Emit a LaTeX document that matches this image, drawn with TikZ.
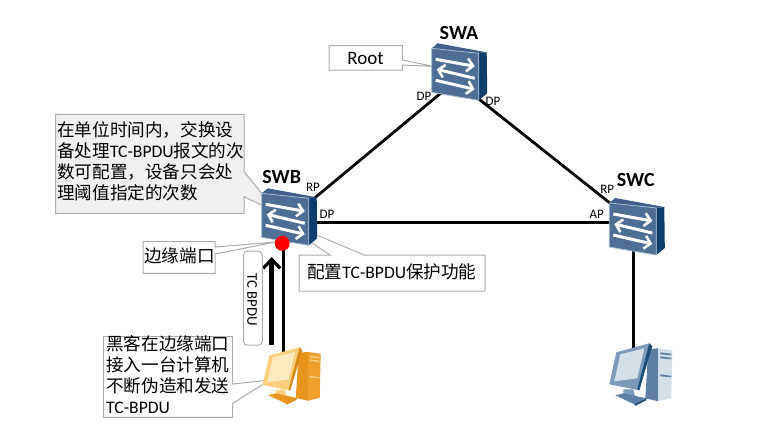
\documentclass[tikz,border=0pt]{standalone}
\usepackage{fontspec}
\setmainfont{Carlito}
\newfontfamily\cjk{Noto Sans CJK SC}
\usetikzlibrary{arrows.meta}
\definecolor{calloutgray}{HTML}{ADADAD}
\definecolor{swfront}{HTML}{4E6E94}
\definecolor{swtop}{HTML}{41618A}
\definecolor{swside}{HTML}{103E6C}
\definecolor{swedge}{HTML}{A6BBD0}
\definecolor{orside}{HTML}{E8951F}
\definecolor{ordark}{HTML}{D98A1A}
\definecolor{orframe}{HTML}{FCCF7E}
\definecolor{orlight}{HTML}{FEE9BF}
\definecolor{ortower}{HTML}{EE9F2C}
\definecolor{orstripe}{HTML}{F6C67A}
\definecolor{blside}{HTML}{5F7FA3}
\definecolor{bldark}{HTML}{1F4E79}
\definecolor{blframe}{HTML}{7D9AB8}
\definecolor{bllight}{HTML}{D5DFE8}
\tikzset{
  link/.style={draw=black,line width=2.8pt},
  callout/.style={draw=calloutgray,line width=1pt,fill=white},
  grayout/.style={callout,fill=black!6},
  calltext/.style={inner sep=0pt,anchor=north west,align=left,font=\fontsize{17.6}{21}\selectfont},
  swname/.style={inner sep=0pt,font=\fontsize{20}{21}\selectfont\bfseries},
  portname/.style={inner sep=0pt,font=\fontsize{13}{14}\selectfont},
  swarrow/.style={draw=white,line width=3pt,-{Straight Barb[length=6pt,width=13pt,line width=2.6pt]}}
}
\newcommand{\switchicon}[2]{%
\begin{scope}[shift={(#1,#2)}]
  \fill[swtop] (0,0) -- (6,-5) -- (55,4) -- (47,5) -- cycle;
  \fill[swside] (47,5) -- (55,4) -- (55.5,45) -- (47,52) -- cycle;
  \fill[swfront,draw=swedge,line width=.8pt] (0,0) -- (47,5) -- (47,52) -- (0,44) -- cycle;
  \draw[swarrow] (4,11) -- (43,18);
  \draw[swarrow] (43,30) -- (5,21);
  \draw[swarrow] (4,32) -- (43,41);
\end{scope}}
% origin x y scale, side, dark, frame, light, tower front, stripes
\newcommand{\pcicon}[9]{%
\begin{scope}[shift={(#1,#2)},scale=#3]
  \fill[#4] (39,6) -- (49,5) -- (49,58) -- (36,55) -- cycle;
  \fill[#8] (49,5) -- (63,7) -- (62,55) -- (49,58) -- cycle;
  \fill[#9] (51,9) -- (62,10.5) -- (62,12) -- (51,11) -- cycle;
  \fill[#9] (51,13) -- (62,14.5) -- (62,16) -- (51,15) -- cycle;
  \fill[#9] (51,31) -- (62,32.5) -- (62,34) -- (51,33) -- cycle;
  \fill[#6] (14,46) -- (24,46) -- (26,55) -- (14,54) -- cycle;
  \fill[#4] (6,52) -- (14,50) -- (37,55) -- (25,61) -- cycle;
  \fill[#5] (25,61) -- (37,55) -- (37,57) -- (26,62.5) -- cycle;
  \fill[#6] (0,41) -- (7,9) -- (40,0) -- (30,47) -- cycle;
  \fill[#5] (40,0) -- (43,3) -- (30,47) -- (28,46) -- cycle;
  \fill[#7] (5,38) -- (11,11) -- (35,5) -- (28,35) -- cycle;
\end{scope}}
\begin{document}
\begin{tikzpicture}[x=1pt,y=-1pt]
\useasboundingbox (0,0) rectangle (770,429);
\fill[white] (0,0) rectangle (770,429);
% connector ends
\coordinate (aL) at (447,88);
\coordinate (aR) at (470,92);
\coordinate (bT) at (305,206);
\coordinate (bR) at (310,222.3);
\coordinate (bB) at (283.7,243);
\coordinate (cT) at (625,215);
\coordinate (cL) at (615,222.3);
\coordinate (cB) at (633.3,240);
\coordinate (pcA) at (283.7,352);
\coordinate (pcB) at (633.3,350);
\coordinate (upA) at (271.7,345);
\coordinate (upB) at (271.7,257);
% links
\draw[link] (aL) -- (bT);
\draw[link] (aR) -- (cT);
\draw[link] (bR) -- (cL);
\draw[link] (bB) -- (pcA);
\draw[link] (cB) -- (pcB);
\draw[line width=4.5pt,-{Straight Barb[length=9pt,width=17pt,line width=3.2pt]}] (upA) -- (upB);
% callouts
\draw[callout] (329,45.7) -- (402.3,45.7) -- (402.3,60) -- (434,66.5) -- (402.3,65) -- (402.3,70) -- (329,70) -- cycle;
\draw[grayout] (55.7,114.3) -- (244,114.3) -- (244,171.7) -- (278,213) -- (244,196.7) -- (244,213.3) -- (55.7,213.3) -- cycle;
\draw[callout] (143,241.7) -- (215,241.7) -- (215,247) -- (276,242) -- (215,254) -- (215,273.3) -- (143,273.3) -- cycle;
\draw[callout] (299,255) -- (330,255) -- (305,238) -- (305,230) -- (364,255) -- (485,255) -- (485,291) -- (299,291) -- cycle;
\draw[callout] (103.3,336.7) -- (232.7,336.7) -- (232.7,384) -- (270,380) -- (232.7,403.3) -- (232.7,417.3) -- (103.3,417.3) -- cycle;
\node[callout,rounded corners=4pt,minimum width=19pt,minimum height=94pt,inner sep=0pt] (tcbox) at (252.8,298.2) {};
\node[inner sep=0pt,rotate=-90,font=\fontsize{14.8}{15}\selectfont] (tctext) at (252,300) {TC BPDU};
% switches
\switchicon{431.7}{48.3}
\switchicon{261.7}{193.3}
\switchicon{609.3}{203}
% computers
\pcicon{262.7}{347.3}{0.92}{orside}{ordark}{orframe}{orlight}{ortower}{orstripe}
\pcicon{609.3}{343.3}{1}{blside}{bldark}{blframe}{bllight}{bllight}{blside}
\fill[red] (282.2,243.3) circle (7.5);
% labels
\node[inner sep=0pt,font=\fontsize{19}{20}\selectfont] (rootlabel) at (365.5,58) {Root};
\node[calltext] (bigtext) at (57,121) {{\cjk 在单位时间内，交换设}\\{\cjk 备处理}TC-BPDU{\cjk 报文的次}\\{\cjk 数可配置，设备只会处}\\{\cjk 理阈值指定的次数}};
\node[calltext] (edgetext) at (144,247) {\cjk 边缘端口};
\node[calltext] (cfgtext) at (307,263) {{\cjk 配置}TC-BPDU{\cjk 保护功能}};
\node[calltext] (hacktext) at (106,335) {{\cjk 黑客在边缘端口}\\{\cjk 接入一台计算机}\\{\cjk 不断伪造和发送}\\TC-BPDU};
\node[swname] (swaname) at (459,33) {SWA};
\node[swname] (swbname) at (281.7,177) {SWB};
\node[swname] (swcname) at (635.7,180) {SWC};
\node[portname] (p1) at (424,96) {DP};
\node[portname] (p2) at (493,101.7) {DP};
\node[portname] (p3) at (313,187) {RP};
\node[portname] (p4) at (327,214) {DP};
\node[portname] (p5) at (607.3,189.3) {RP};
\node[portname] (p6) at (596.7,214) {AP};
\end{tikzpicture}
\end{document}
